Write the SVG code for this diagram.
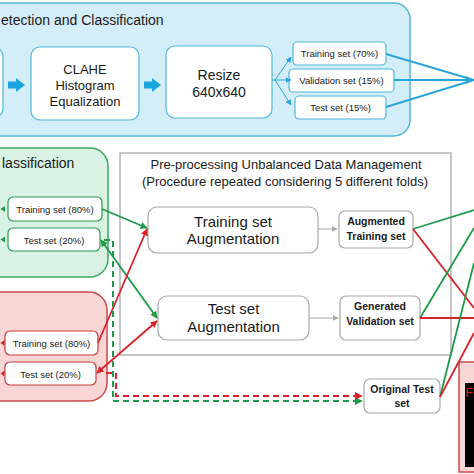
<svg xmlns="http://www.w3.org/2000/svg" width="474" height="474" viewBox="0 0 474 474">
<defs>
<style>
text{font-family:"Liberation Sans",Arial,sans-serif;fill:#1a1a1a;text-anchor:middle}
.l{text-anchor:start}
.bp{fill:#d4eef9;stroke:#4db8dc;stroke-width:1.5}
.wb{fill:#fff;stroke:#4db8dc;stroke-width:1.2}
.gp{fill:#d9f2e3;stroke:#3aaa5e;stroke-width:1.5}
.wg{fill:#fff;stroke:#2e9a52;stroke-width:1.2}
.rp{fill:#f9d6d6;stroke:#cc4a4a;stroke-width:1.5}
.wr{fill:#fff;stroke:#c83c3c;stroke-width:1.2}
.wgr{fill:#fff;stroke:#a8a8a8;stroke-width:1.2}
.t14{font-size:14px}
.t13{font-size:13px}
.t15{font-size:15px}
.s{font-size:9.5px}
.b{font-weight:bold;font-size:10.5px}
.cb{fill:none;stroke:#2aa5da;stroke-width:2}
.cbt{fill:none;stroke:#2aa5da;stroke-width:1}
.cg{fill:none;stroke:#1f9a4a;stroke-width:1.8}
.cr{fill:none;stroke:#d8222a;stroke-width:1.8}
.cgd{fill:none;stroke:#1f9a4a;stroke-width:2;stroke-dasharray:6 4}
.crd{fill:none;stroke:#d8222a;stroke-width:2;stroke-dasharray:6 4}
.cgy{fill:none;stroke:#a8a8a8;stroke-width:1}
.ba{fill:#1ba6e0}
.ag{fill:#1f9a4a}
.ar{fill:#d8222a}
</style>
<marker id="mb" viewBox="0 0 10 10" refX="9" refY="5" markerWidth="4" markerHeight="4" orient="auto-start-reverse"><path d="M0,0L10,5L0,10z" fill="#2aa5da"/></marker>
<marker id="mbt" viewBox="0 0 10 10" refX="9" refY="5" markerWidth="6" markerHeight="6" orient="auto-start-reverse"><path d="M0,0L10,5L0,10z" fill="#2aa5da"/></marker>
<marker id="mg" viewBox="0 0 10 10" refX="9" refY="5" markerWidth="4" markerHeight="4" orient="auto-start-reverse"><path d="M0,0L10,5L0,10z" fill="#1f9a4a"/></marker>
<marker id="mr" viewBox="0 0 10 10" refX="9" refY="5" markerWidth="4" markerHeight="4" orient="auto-start-reverse"><path d="M0,0L10,5L0,10z" fill="#d8222a"/></marker>
<marker id="mgy" viewBox="0 0 10 10" refX="9" refY="5" markerWidth="6" markerHeight="6" orient="auto-start-reverse"><path d="M0,0L10,5L0,10z" fill="#a8a8a8"/></marker>
</defs>

<g id="panel-detection">
<rect class="bp" x="-30" y="3" width="440" height="133" rx="16"/>
<text class="l t14" x="1" y="25">etection and Classification</text>
</g>
<g id="node-left-input"><rect class="wb" x="-30" y="48" width="33" height="69" rx="8"/></g>
<g id="node-clahe">
<rect class="wb" x="31" y="47" width="108" height="73" rx="9"/>
<text class="t13" x="85" y="74">CLAHE</text>
<text class="t13" x="85" y="90">Histogram</text>
<text class="t13" x="85" y="106">Equalization</text>
</g>
<g id="node-resize">
<rect class="wb" x="166" y="46" width="106" height="72" rx="9"/>
<text class="t14" x="219" y="80">Resize</text>
<text class="t14" x="219" y="97">640x640</text>
</g>
<g id="node-train70"><rect class="wb" x="293" y="42" width="93" height="23" rx="4"/><text class="s" x="339.5" y="57">Training set (70%)</text></g>
<g id="node-val15"><rect class="wb" x="289" y="69" width="105" height="23" rx="4"/><text class="s" x="341.5" y="84">Validation set (15%)</text></g>
<g id="node-test15"><rect class="wb" x="295" y="96" width="91" height="23" rx="4"/><text class="s" x="340.5" y="111">Test set (15%)</text></g>

<g id="panel-classification">
<rect class="gp" x="-30" y="148" width="138" height="129" rx="18"/>
<text class="l t14" x="2" y="168">lassification</text>
</g>
<g id="node-g-train80"><rect class="wg" x="8" y="197" width="94" height="24" rx="5"/><text class="s" x="55" y="213">Training set (80%)</text></g>
<g id="node-g-test20"><rect class="wg" x="8" y="228" width="92" height="23" rx="5"/><text class="s" x="54" y="243.5">Test set (20%)</text></g>

<g id="panel-red">
<rect class="rp" x="-30" y="292" width="137" height="109" rx="18"/>
</g>
<g id="node-r-train80"><rect class="wr" x="5" y="331" width="93" height="24" rx="5"/><text class="s" x="51.5" y="347">Training set (80%)</text></g>
<g id="node-r-test20"><rect class="wr" x="5" y="362" width="91" height="23" rx="5"/><text class="s" x="50.5" y="378">Test set (20%)</text></g>

<g id="panel-preprocessing">
<rect x="120" y="153" width="331" height="202" fill="none" stroke="#a8a8a8" stroke-width="1.3"/>
<text class="t13" x="286" y="169">Pre-processing Unbalanced Data Management</text>
<text class="t13" x="285" y="186">(Procedure repeated considering 5 different folds)</text>
</g>
<g id="node-train-aug">
<rect class="wgr" x="148" y="207" width="170" height="46" rx="9"/>
<text class="t15" x="233" y="227">Training set</text>
<text class="t15" x="233" y="244">Augmentation</text>
</g>
<g id="node-test-aug">
<rect class="wgr" x="158" y="296" width="151" height="44" rx="9"/>
<text class="t15" x="233.5" y="314">Test set</text>
<text class="t15" x="233.5" y="332">Augmentation</text>
</g>
<g id="node-augmented">
<rect class="wgr" x="339" y="211" width="74" height="37" rx="6"/>
<text class="b" x="376" y="225">Augmented</text>
<text class="b" x="376" y="240">Training set</text>
</g>
<g id="node-generated">
<rect class="wgr" x="340" y="296" width="80" height="44" rx="6"/>
<text class="b" x="380" y="310">Generated</text>
<text class="b" x="380" y="325">Validation set</text>
</g>
<g id="node-original-test">
<rect class="wgr" x="364" y="379" width="76" height="34" rx="6"/>
<text class="b" x="402" y="393">Original Test</text>
<text class="b" x="402" y="407">set</text>
</g>
<g id="node-result">
<rect x="459" y="362" width="40" height="110" fill="#f9d6d6" stroke="#cc4a4a" stroke-width="1.5"/>
<rect x="465" y="383" width="30" height="84" fill="#000"/>
<text class="l" x="465.5" y="397" style="font-size:12.5px;fill:#e02020">F</text>
</g>

<g id="connectors">
<polygon class="ba" points="8,81.5 16,81.5 16,78 25,85 16,92 16,88.5 8,88.5"/>
<polygon class="ba" points="144,81.5 152,81.5 152,78 161,85 152,92 152,88.5 144,88.5"/>
<path class="cbt" d="M272,80H275L291,57" marker-end="url(#mbt)"/>
<path class="cbt" d="M275,80H291" marker-end="url(#mbt)"/>
<path class="cbt" d="M275,80L291,105" marker-end="url(#mbt)"/>
<path class="cb" d="M386,54L474,80"/>
<path class="cb" d="M386,107L474,80"/>
<path class="cb" d="M394,80H473" marker-end="url(#mb)"/>

<polygon class="ag" points="0.5,209 5,206 5,212"/>
<polygon class="ag" points="0.5,239.5 5,236.5 5,242.5"/>
<polygon class="ar" points="0.5,343 4.5,340 4.5,346"/>
<polygon class="ar" points="0.5,373.5 4.5,370.5 4.5,376.5"/>

<path class="cg" d="M102,209L147,228" marker-end="url(#mg)"/>
<path class="cg" d="M101,240L157,318" marker-start="url(#mg)" marker-end="url(#mg)"/>
<path class="cr" d="M98,343L147,229" marker-end="url(#mr)"/>
<path class="cr" d="M97,373L157,321" marker-start="url(#mr)" marker-end="url(#mr)"/>
<path class="cgd" d="M104,240H113V401H362" marker-end="url(#mg)"/>
<path class="crd" d="M106,373H116V396H362" marker-end="url(#mr)"/>

<path class="cgy" d="M318,229H337" marker-end="url(#mgy)"/>
<path class="cgy" d="M309,318H338" marker-end="url(#mgy)"/>

<path class="cg" d="M413,229L474,210"/>
<path class="cr" d="M413,229L474,308"/>
<path class="cg" d="M420,318L474,228"/>
<path class="cr" d="M420,318H474"/>
<path class="cg" d="M440,397L474,263"/>
<path class="cr" d="M440,397L474,333"/>
</g>
</svg>
